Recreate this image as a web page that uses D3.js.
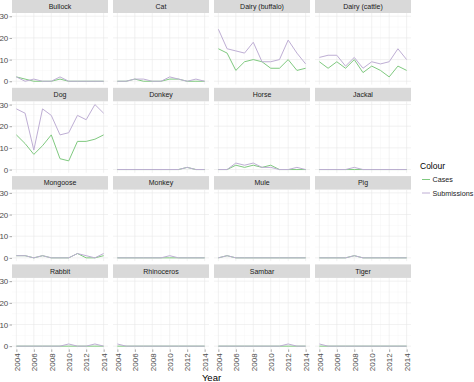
<!DOCTYPE html>
<html>
<head>
<meta charset="utf-8">
<script src="https://cdn.jsdelivr.net/npm/d3@7"></script>
<style>
  body { margin: 0; background: #fff; }
  svg { display: block; font-family: "Liberation Sans", Arial, sans-serif; }
</style>
</head>
<body>
<div id="chart"></div>
<script>

// facets, in the order they are laid out (4 per row)
var animals = ["Bullock", "Cat", "Dairy (buffalo)", "Dairy (cattle)",
               "Dog", "Donkey", "Horse", "Jackal",
               "Mongoose", "Monkey", "Mule", "Pig",
               "Rabbit", "Rhinoceros", "Sambar", "Tiger"];

var years = [2004, 2005, 2006, 2007, 2008, 2009, 2010, 2011, 2012, 2013, 2014];

// one row per animal, one value per year
var cases = [
  [2, 1, 0, 0, 0, 1, 0, 0, 0, 0, 0],
  [0, 0, 1, 0, 0, 0, 1, 1, 0, 0, 0],
  [15, 13, 5, 9, 10, 9, 6, 6, 10, 5, 6],
  [9, 6, 9, 6, 10, 4, 7, 5, 2, 7, 5],
  [16, 12, 7, 11, 16, 5, 4, 13, 13, 14, 16],
  [0, 0, 0, 0, 0, 0, 0, 0, 1, 0, 0],
  [0, 0, 2, 1, 2, 1, 2, 0, 0, 0, 0],
  [0, 0, 0, 0, 0, 0, 0, 0, 0, 0, 0],
  [1, 1, 0, 1, 0, 0, 0, 2, 0, 0, 1],
  [0, 0, 0, 0, 0, 0, 0, 0, 0, 0, 0],
  [0, 1, 0, 0, 0, 0, 0, 0, 0, 0, 0],
  [0, 0, 0, 0, 1, 0, 0, 0, 0, 0, 0],
  [0, 0, 0, 0, 0, 0, 0, 0, 0, 0, 0],
  [0, 0, 0, 0, 0, 0, 0, 0, 0, 0, 0],
  [0, 0, 0, 0, 0, 0, 0, 0, 0, 0, 0],
  [0, 0, 0, 0, 0, 0, 0, 0, 0, 0, 0]
];

var submissions = [
  [2, 0, 1, 0, 0, 2, 0, 0, 0, 0, 0],
  [0, 0, 1, 1, 0, 0, 2, 1, 0, 1, 0],
  [24, 15, 14, 13, 18, 9, 9, 10, 19, 13, 8],
  [11, 12, 12, 7, 11, 6, 9, 8, 9, 15, 10],
  [28, 26, 9, 28, 25, 16, 17, 25, 23, 30, 26],
  [0, 0, 0, 0, 0, 0, 0, 0, 1, 0, 0],
  [0, 0, 3, 2, 3, 1, 1, 0, 0, 1, 0],
  [0, 0, 0, 0, 1, 0, 0, 0, 0, 0, 0],
  [1, 1, 0, 1, 0, 0, 0, 2, 1, 0, 2],
  [0, 0, 0, 0, 0, 0, 1, 0, 0, 0, 0],
  [0, 1, 0, 0, 0, 0, 0, 0, 0, 0, 0],
  [0, 0, 0, 0, 1, 0, 0, 0, 0, 0, 0],
  [0, 0, 0, 0, 0, 0, 1, 0, 0, 1, 0],
  [1, 0, 0, 0, 0, 0, 0, 0, 0, 0, 0],
  [0, 0, 0, 0, 0, 0, 0, 0, 1, 0, 0],
  [1, 0, 0, 0, 0, 0, 0, 0, 0, 0, 0]
];

var seriesNames = ["Cases", "Submissions"];
var seriesColors = ["#7fc97f", "#beaed4"];   // brewer Accent

var yTicks = [0, 10, 20, 30];
var yMinor = [5, 15, 25];
var xTicks = [2004, 2006, 2008, 2010, 2012, 2014];
var xMinor = [2005, 2007, 2009, 2011, 2013];


var width = 474, height = 382;
var ncol = 4;
var panelLeft = 12, panelW = 96, colStep = 101;
var panelTop = 13, panelH = 71.5, rowStep = 88.3, stripH = 13.5;

var svg = d3.select("#chart")
  .append("svg")
    .attr("width", width)
    .attr("height", height);

// shared scales (fixed across facets), with ggplot style 5% padding
var x = d3.scaleLinear().domain([2003.5, 2014.5]).range([0, panelW]);
var y = d3.scaleLinear().domain([-1.5, 31.5]).range([panelH, 0]);

var line = d3.line()
  .x(function (d, i) { return x(years[i]); })
  .y(function (d) { return y(d); });

var nrow = Math.ceil(animals.length / ncol);

animals.forEach(function (name, k) {
  var col = k % ncol, row = Math.floor(k / ncol);
  var px = panelLeft + col * colStep, py = panelTop + row * rowStep;

  // strip
  svg.append("rect")
    .attr("x", px).attr("y", py - stripH)
    .attr("width", panelW).attr("height", stripH)
    .attr("fill", "#d9d9d9");
  svg.append("text")
    .attr("x", px + panelW / 2).attr("y", py - stripH / 2)
    .attr("dy", "0.35em")
    .attr("text-anchor", "middle")
    .attr("font-size", 7)
    .attr("fill", "#1a1a1a")
    .text(name);

  var g = svg.append("g").attr("transform", "translate(" + px + "," + py + ")");

  // grid lines
  g.selectAll(".ymin").data(yMinor).enter().append("line")
    .attr("x1", 0).attr("x2", panelW)
    .attr("y1", y).attr("y2", y)
    .attr("stroke", "#f3f3f3").attr("stroke-width", 0.4);
  g.selectAll(".xmin").data(xMinor).enter().append("line")
    .attr("y1", 0).attr("y2", panelH)
    .attr("x1", x).attr("x2", x)
    .attr("stroke", "#f3f3f3").attr("stroke-width", 0.4);
  g.selectAll(".ymaj").data(yTicks).enter().append("line")
    .attr("x1", 0).attr("x2", panelW)
    .attr("y1", y).attr("y2", y)
    .attr("stroke", "#e8e8e8").attr("stroke-width", 0.6);
  g.selectAll(".xmaj").data(xTicks).enter().append("line")
    .attr("y1", 0).attr("y2", panelH)
    .attr("x1", x).attr("x2", x)
    .attr("stroke", "#e8e8e8").attr("stroke-width", 0.6);

  // the two series, submissions drawn last
  [cases[k], submissions[k]].forEach(function (vals, s) {
    g.append("path")
      .datum(vals)
      .attr("d", line)
      .attr("fill", "none")
      .attr("stroke", seriesColors[s])
      .attr("stroke-width", 1);
  });

  // y axis on first column only
  if (col === 0) {
    var ya = g.append("g")
      .call(d3.axisLeft(y).tickValues(yTicks).tickSize(2.5).tickPadding(1.2));
    ya.select(".domain").remove();
    ya.selectAll("line").attr("stroke", "#4d4d4d").attr("stroke-width", 0.5);
    ya.selectAll("text").attr("fill", "#4d4d4d").attr("font-size", 8)
      .attr("font-family", "Liberation Sans, Arial, sans-serif");
  }

  // x axis on bottom row only, rotated labels
  if (row === nrow - 1) {
    var xa = g.append("g")
      .attr("transform", "translate(0," + panelH + ")")
      .call(d3.axisBottom(x).tickValues(xTicks).tickFormat(d3.format("d")).tickSize(2.5).tickPadding(1.5));
    xa.select(".domain").remove();
    xa.selectAll("line").attr("stroke", "#4d4d4d").attr("stroke-width", 0.5);
    xa.selectAll("text")
      .attr("fill", "#4d4d4d").attr("font-size", 8)
      .attr("font-family", "Liberation Sans, Arial, sans-serif")
      .attr("transform", "rotate(-90)")
      .attr("text-anchor", "end")
      .attr("x", -4).attr("y", 0).attr("dy", "0.35em");
  }
});

// x axis title
svg.append("text")
  .attr("x", panelLeft + (colStep * (ncol - 1) + panelW) / 2)
  .attr("y", 381)
  .attr("text-anchor", "middle")
  .attr("font-size", 9.5)
  .attr("fill", "#000")
  .text("Year");

// legend
var lg = svg.append("g").attr("transform", "translate(420,0)");
lg.append("text")
  .attr("x", 0).attr("y", 169)
  .attr("font-size", 8.5)
  .text("Colour");
seriesNames.forEach(function (nm, i) {
  var ly = 179.5 + i * 13.5;
  lg.append("line")
    .attr("x1", 2).attr("x2", 10)
    .attr("y1", ly).attr("y2", ly)
    .attr("stroke", seriesColors[i]).attr("stroke-width", 1);
  lg.append("text")
    .attr("x", 12.5).attr("y", ly).attr("dy", "0.35em")
    .attr("font-size", 7.2)
    .attr("fill", "#1a1a1a")
    .text(nm);
});

</script>
</body>
</html>
